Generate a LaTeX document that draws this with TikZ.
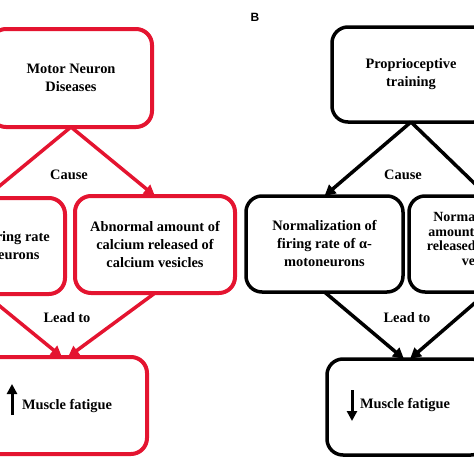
\documentclass[tikz,border=0pt]{standalone}
\usepackage{fontspec}
\setmainfont{Liberation Serif}
\setsansfont{Liberation Sans}
\usetikzlibrary{arrows.meta}
\definecolor{fred}{RGB}{228,20,48}
\begin{document}
\begin{tikzpicture}[x=1pt,y=-1pt,
  font=\bfseries\fontsize{14.4}{18}\selectfont,
  rbox/.style={draw=fred, line width=4pt, rounded corners=16pt, align=center, inner sep=0pt, outer sep=0pt},
  kbox/.style={draw=black, line width=3.5pt, rounded corners=16pt, align=center, inner sep=0pt, outer sep=0pt},
  rconn/.style={draw=fred, line width=3.5pt, -{Triangle[length=11pt,width=11pt]}},
  kconn/.style={draw=black, line width=3.5pt, -{Triangle[length=11pt,width=11pt]}},
  lbl/.style={inner sep=0pt, align=center},
  updown/.style={draw=black, line width=3pt, -{Triangle[length=10pt,width=10pt]}}
]
\useasboundingbox (0,0) rectangle (474,474);
\clip (0,0) rectangle (474,474);

% ---------- Panel A ----------
\node[rbox, minimum width=162pt, minimum height=98pt] (mnd) at (71,78) {Motor Neuron\\Diseases};
\node[rbox, minimum width=160pt, minimum height=96pt] (afr) at (-15,246) {Abnormal firing rate\\of α-motoneurons};
\node[rbox, minimum width=160pt, minimum height=97pt] (aca) at (155,244.5) {Abnormal amount of\\calcium released of\\calcium vesicles};
\node[rbox, minimum width=164pt, minimum height=97pt] (mfA) at (65,405.5) {};
\node[lbl] (mfAt) at (67,406) {Muscle fatigue};
\coordinate (upA1) at (12,415);
\coordinate (upA2) at (12,384);
\draw[updown] (upA1) -- (upA2);

\draw[rconn] (mnd.south) -- (afr.north);
\draw[rconn] (mnd.south) -- (aca.north);
\draw[rconn] (afr.south) -- ([xshift=-3pt]mfA.north);
\draw[rconn] (aca.south) -- ([xshift=3pt]mfA.north);

\node[lbl] (causeA) at (69,175) {Cause};
\node[lbl] (leadA) at (67,318) {Lead to};

% ---------- Panel B ----------
\node[lbl, font=\sffamily\bfseries\fontsize{12}{14}\selectfont] (lblB) at (255,17.5) {B};
\node[kbox, minimum width=158pt, minimum height=95pt] (prop) at (411,74.5) {Proprioceptive\\training};
\node[kbox, minimum width=157pt, minimum height=96pt] (nfr) at (324.5,244) {Normalization of\\firing rate of α-\\motoneurons};
\node[kbox, minimum width=157pt, minimum height=96pt] (nca) at (487.5,244) {};
\node[lbl, font=\bfseries\fontsize{14}{14.5}\selectfont] (ncat) at (484,238.5) {Normalization of\\amount of calcium\\released of calcium\\vesicles};
\node[kbox, minimum width=160pt, minimum height=96pt] (mfB) at (407,407) {};
\node[lbl] (mfBt) at (405,405) {Muscle fatigue};
\coordinate (dnB1) at (352,390);
\coordinate (dnB2) at (352,421);
\draw[updown] (dnB1) -- (dnB2);

\draw[kconn] (prop.south) -- (nfr.north);
\draw[kconn] (prop.south) -- (nca.north);
\draw[kconn] (nfr.south) -- ([xshift=-3pt]mfB.north);
\draw[kconn] (nca.south) -- ([xshift=3pt]mfB.north);

\node[lbl] (causeB) at (403,175) {Cause};
\node[lbl] (leadB) at (407,318) {Lead to};
\end{tikzpicture}
\end{document}
